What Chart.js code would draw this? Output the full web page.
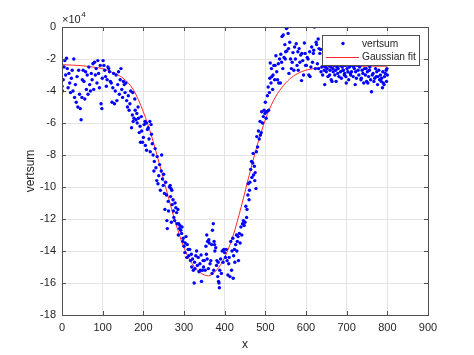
<!DOCTYPE html>
<html>
<head>
<meta charset="utf-8">
<script src="https://cdn.jsdelivr.net/npm/chart.js@4"></script>
<style>
html,body{margin:0;padding:0;background:#fff;}
canvas{display:block;}
</style>
</head>
<body>
<canvas id="c" width="474" height="355"></canvas>
<script>
// ---- data (y values in units of 1e4, as shown by the "×10^4" axis multiplier) ----
const xTicks = [0,100,200,300,400,500,600,700,800,900];
const yTicks = [-18,-16,-14,-12,-10,-8,-6,-4,-2,0];

const sampleX = [
 0,1,3,5,7,9,11,13,15,17,19,21,23,25,27,29,31,33,35,37,39,41,43,45,47,49,50,
 52,54,56,58,60,62,64,66,68,70,72,74,76,78,80,82,84,86,88,90,92,94,96,98,99,
 101,103,105,107,109,111,113,115,117,119,121,123,125,127,129,131,133,135,137,139,141,143,145,147,149,
 151,153,155,157,159,161,163,165,167,169,171,173,174,175,177,179,180,182,184,185,187,188,190,192,193,195,196,198,200,
 202,204,205,207,208,210,212,214,216,217,219,220,222,224,226,227,229,231,233,234,236,238,240,242,244,245,247,249,250,
 252,253,255,257,258,259,261,262,264,266,267,268,269,270,271,273,274,275,277,278,280,282,283,285,286,287,289,290,292,294,295,297,298,300,
 302,303,305,307,308,310,312,314,316,318,319,321,323,325,326,327,329,331,333,335,337,339,340,342,343,345,347,348,350,
 352,354,355,356,357,358,360,361,362,364,366,368,369,370,372,373,374,375,376,378,380,381,383,384,385,386,387,388,390,392,394,396,398,400,
 402,404,406,408,410,411,413,415,417,418,420,421,422,424,425,427,429,430,431,433,434,436,438,440,442,444,446,448,450,
 452,454,455,457,458,460,461,462,464,466,467,469,470,471,473,474,475,477,478,479,481,483,485,487,488,490,491,493,495,497,499,
 500,502,503,505,507,508,510,511,512,514,515,516,518,519,521,523,524,526,528,530,532,533,535,537,538,540,541,543,544,546,548,549,550,
 552,553,555,556,557,558,560,562,564,566,568,570,572,574,576,578,580,581,583,585,587,589,590,592,594,596,598,599,
 601,603,605,607,609,610,612,614,616,618,619,621,623,625,626,628,630,631,632,634,636,637,639,641,643,645,646,648,650,
 652,654,656,658,659,661,662,664,666,667,669,671,673,674,676,678,679,681,683,685,687,689,691,692,694,695,697,698,699,
 701,703,705,707,709,710,712,714,716,717,719,721,722,724,726,728,730,732,733,735,736,738,740,742,744,746,748,749,751,752,
 754,756,757,759,761,763,765,767,769,771,773,774,776,777,779,781,783,785,786,788,789,790,792,793,795,797,798,799,800
];

const vertsum = [
 -3.7,-4.0,-3.3,-2.5,-2.1,-3.0,-1.95,-2.6,-3.8,-2.9,-3.5,-4.1,-3.2,-2.7,-4.0,-2.0,-4.4,-3.6,-4.7,-3.1,-5.0,-2.7,-4.2,-5.1,-5.8,-4.4,-3.3,
 -2.7,-3.4,-4.5,-2.8,-3.9,-3.0,-4.2,-2.5,-3.6,-4.0,-2.9,-3.3,-2.3,-3.9,-2.2,-3.0,-2.6,-3.5,-2.1,-2.9,-3.8,-2.4,-4.8,-5.1,-3.2,
 -2.1,-2.4,-2.7,-3.1,-3.7,-3.3,-2.5,-2.6,-2.8,-3.4,-3.5,-4.7,-3.8,-2.9,-4.8,-4.0,-3.0,-4.6,-3.6,-2.8,-4.2,-3.3,-2.6,-3.9,-4.4,
 -3.4,-3.6,-4.1,-3.5,-4.6,-5.0,-4.3,-5.2,-4.8,-4.0,-6.3,-5.5,-4.1,-5.9,-5.7,-4.5,-5.2,-5.8,-5.4,-6.0,-5.0,-5.7,-6.6,-6.2,-7.2,-5.6,-6.5,-7.2,-6.9,
 -6.1,-5.9,-7.4,-6.0,-7.7,-6.4,-6.3,-7.0,-5.9,-7.8,-6.1,-6.7,-7.3,-8.0,-9.0,-8.4,-7.6,-8.8,-9.6,-8.1,-9.8,-9.3,-8.6,-10.2,-9.0,-8.0,-9.5,-9.9,-9.2,
 -10.4,-11.4,-9.7,-10.5,-12.1,-12.6,-10.9,-11.5,-10.0,-9.9,-10.6,-10.1,-12.2,-10.2,-11.1,-10.8,-11.5,-11.9,-12.1,-11.0,-11.3,-11.6,-12.3,-11.4,-13.0,-12.3,-12.6,-12.4,-12.7,-12.9,-12.5,-13.4,-13.2,-13.7,
 -14.1,-13.5,-13.1,-14.4,-13.6,-13.9,-14.3,-13.9,-14.6,-14.2,-15.0,-14.5,-15.2,-16.0,-14.7,-15.1,-14.3,-14.0,-14.9,-14.4,-15.3,-14.8,-15.2,-14.25,-15.9,-15.2,-14.6,-15.0,-14.6,
 -15.2,-13.7,-14.2,-13.0,-14.5,-13.4,-15.1,-13.3,-13.5,-14.8,-14.6,-13.6,-15.4,-12.7,-12.3,-15.2,-13.4,-13.6,-14.0,-13.8,-14.9,-14.6,-15.6,-14.7,-15.9,-16.0,-16.3,-15.2,-14.5,-15.4,-14.0,-14.7,-13.9,-14.1,
 -14.4,-13.9,-14.6,-15.5,-14.8,-14.4,-15.6,-13.4,-15.2,-14.0,-13.2,-15.7,-14.3,-13.9,-14.7,-13.6,-13.0,-14.0,-13.4,-13.1,-14.6,-12.9,-13.5,-12.5,-13.0,-12.3,-12.1,-12.4,-12.2,
 -11.2,-11.9,-11.4,-10.5,-9.8,-10.8,-10.2,-9.7,-8.9,-8.4,-9.4,-8.5,-7.9,-9.25,-8.7,-9.6,-9.1,-10.1,-7.8,-6.85,-7.5,-6.5,-7.0,-5.9,-6.75,-6.6,-5.3,-6.0,-5.6,-5.2,-5.4,
 -4.7,-5.7,-5.3,-4.3,-3.75,-5.2,-4.1,-3.2,-2.25,-3.5,-2.6,-3.1,-3.9,-3.0,-2.4,-3.3,-2.4,-1.8,-2.8,-3.3,-2.3,-3.5,-2.0,-3.5,-1.7,-2.2,-0.6,-2.6,-0.5,-1.9,-1.1,-2.0,-1.55,
 -0.1,-1.5,0.0,-0.4,-1.35,-2.9,-0.95,-2.0,-2.6,-2.2,-1.6,-2.7,-1.25,-2.0,-1.05,-2.4,-1.55,-2.7,-1.35,-2.2,-1.75,-3.35,-1.65,-2.1,-3.0,-1.0,-1.65,-2.4,
 -2.4,-1.9,-2.0,-3.0,-1.55,-3.1,-2.5,-1.25,-2.2,-1.65,-1.45,0.0,-2.6,-0.95,-1.1,-2.3,-0.75,-2.6,-1.35,-1.65,-1.4,-2.8,-2.5,-3.0,-2.4,-2.7,-3.6,-2.5,-2.8,
 -2.6,-3.1,-2.4,-3.0,-2.7,-2.5,-3.3,-3.4,-2.6,-2.8,-2.4,-3.0,-2.7,-3.4,-2.5,-2.9,-2.6,-3.1,-2.4,-2.8,-3.2,-2.5,-2.7,-2.7,-3.0,-2.9,-2.4,-3.1,-3.5,
 -2.6,-2.8,-3.3,-2.5,-2.9,-3.0,-2.8,-2.4,-3.1,-2.5,-2.6,-3.6,-2.8,-3.2,-2.4,-2.7,-3.0,-2.5,-2.4,-3.3,-3.2,-2.7,-2.9,-3.5,-2.6,-3.0,-2.6,-3.4,-2.8,-3.5,
 -3.1,-2.7,-2.5,-3.3,-4.05,-3.0,-2.9,-3.4,-3.2,-2.6,-3.1,-2.8,-3.6,-3.1,-2.7,-3.3,-3.0,-3.4,-3.2,-3.8,-2.8,-3.5,-3.6,-3.1,-2.9,-2.7,-3.4,-2.6,-3.0
];

const fitX = [0,25,50,75,100,125,150,175,200,220,240,260,280,300,320,340,360,380,400,420,440,460,480,500,520,540,560,580,600,630,660,700,750,800];
const fitY = [-2.36,-2.38,-2.42,-2.5,-2.6,-2.85,-3.2,-3.9,-5.3,-6.8,-8.6,-10.5,-12.3,-13.8,-14.8,-15.35,-15.55,-15.2,-14.4,-13.1,-11.3,-9.3,-7.4,-5.8,-4.6,-3.8,-3.25,-2.9,-2.7,-2.56,-2.5,-2.47,-2.45,-2.45];

const seriesNames = ['vertsum', 'Gaussian fit'];
const axisTitles = { x: 'x', y: 'vertsum' };

// ---- build ----
const n = Math.min(sampleX.length, vertsum.length);
const scatterPts = [];
for (let i = 0; i < n; i++) scatterPts.push({x: sampleX[i], y: vertsum[i]});
const fitPts = fitX.map((x, i) => ({x, y: fitY[i]}));

const FONT = '"Liberation Sans", Arial, Helvetica, sans-serif';
const AXIS_COLOR = 'rgb(80,80,80)';
const TEXT_COLOR = 'rgb(38,38,38)';

const matlabPlugin = {
  id: 'matlabDecor',
  afterDatasetsDraw(chart) {
    const {ctx, chartArea: a, scales} = chart;
    const xs = scales.x, ys = scales.y;
    ctx.save();
    ctx.strokeStyle = AXIS_COLOR;
    ctx.lineWidth = 1;
    ctx.strokeRect(Math.round(a.left) + 0.5, Math.round(a.top) + 0.5,
                   Math.round(a.right - a.left), Math.round(a.bottom - a.top));
    ctx.beginPath();
    xTicks.forEach(v => {
      const px = Math.round(xs.getPixelForValue(v)) + 0.5;
      ctx.moveTo(px, a.bottom); ctx.lineTo(px, a.bottom - 4);
      ctx.moveTo(px, a.top); ctx.lineTo(px, a.top + 4);
    });
    yTicks.forEach(v => {
      const py = Math.round(ys.getPixelForValue(v)) + 0.5;
      ctx.moveTo(a.left, py); ctx.lineTo(a.left + 4, py);
      ctx.moveTo(a.right, py); ctx.lineTo(a.right - 4, py);
    });
    ctx.stroke();
    ctx.restore();
  },
  afterDraw(chart) {
    const {ctx, chartArea: a} = chart;
    ctx.save();
    ctx.fillStyle = TEXT_COLOR;
    ctx.font = '11px ' + FONT;
    ctx.textAlign = 'left';
    ctx.textBaseline = 'alphabetic';
    ctx.fillText('\u00d710', a.left, a.top - 4);
    const w = ctx.measureText('\u00d710').width;
    ctx.font = '8px ' + FONT;
    ctx.fillText('4', a.left + w + 0.5, a.top - 10);
    ctx.font = '12px ' + FONT;
    ctx.textAlign = 'center';
    ctx.textBaseline = 'middle';
    ctx.fillText(axisTitles.x, (a.left + a.right) / 2, 345);
    ctx.save();
    ctx.translate(31, (a.top + a.bottom) / 2);
    ctx.rotate(-Math.PI / 2);
    ctx.fillText(axisTitles.y, 0, 0);
    ctx.restore();
    // legend box
    const lx = 322.5, ly = 35.5, lw = 97, lh = 30;
    ctx.fillStyle = '#fff';
    ctx.fillRect(lx, ly, lw, lh);
    ctx.strokeStyle = AXIS_COLOR;
    ctx.lineWidth = 1;
    ctx.strokeRect(lx, ly, lw, lh);
    ctx.fillStyle = '#0000ff';
    ctx.beginPath();
    ctx.arc(343, 43.5, 1.7, 0, Math.PI * 2);
    ctx.fill();
    ctx.strokeStyle = 'rgb(255,40,40)';
    ctx.beginPath();
    ctx.moveTo(326, 57.5); ctx.lineTo(359, 57.5);
    ctx.stroke();
    ctx.fillStyle = TEXT_COLOR;
    ctx.font = '10.2px ' + FONT;
    ctx.textAlign = 'left';
    ctx.textBaseline = 'middle';
    ctx.fillText(seriesNames[0], 362, 44);
    ctx.fillText(seriesNames[1], 362, 57.5);
    ctx.restore();
  }
};

new Chart(document.getElementById('c'), {
  type: 'scatter',
  data: {
    datasets: [
      {
        label: seriesNames[0],
        data: scatterPts,
        backgroundColor: '#0000ff',
        borderColor: '#0000ff',
        borderWidth: 0,
        pointRadius: 1.7,
        pointHoverRadius: 1.7,
        showLine: false
      },
      {
        label: seriesNames[1],
        type: 'line',
        data: fitPts,
        borderColor: 'rgb(255,40,40)',
        borderWidth: 1,
        pointRadius: 0,
        fill: false,
        cubicInterpolationMode: 'monotone'
      }
    ]
  },
  options: {
    responsive: false,
    animation: false,
    events: [],
    layout: { padding: { left: 0, top: 27, right: 46, bottom: 0 } },
    plugins: { legend: { display: false }, tooltip: { enabled: false } },
    scales: {
      x: {
        type: 'linear',
        min: 0, max: 900,
        afterFit(s) { s.height = 40; },
        afterBuildTicks(s) { s.ticks = xTicks.map(v => ({value: v})); },
        ticks: { color: TEXT_COLOR, font: { family: FONT, size: 11 }, padding: 6, maxRotation: 0, autoSkip: false },
        grid: { color: 'rgb(228,228,228)', drawTicks: false, lineWidth: 1 },
        border: { display: false }
      },
      y: {
        type: 'linear',
        min: -18, max: 0,
        afterFit(s) { s.width = 62; },
        afterBuildTicks(s) { s.ticks = yTicks.map(v => ({value: v})); },
        ticks: { color: TEXT_COLOR, font: { family: FONT, size: 11 }, padding: 6, autoSkip: false },
        grid: { color: 'rgb(228,228,228)', drawTicks: false, lineWidth: 1 },
        border: { display: false }
      }
    }
  },
  plugins: [matlabPlugin]
});
</script>
</body>
</html>
